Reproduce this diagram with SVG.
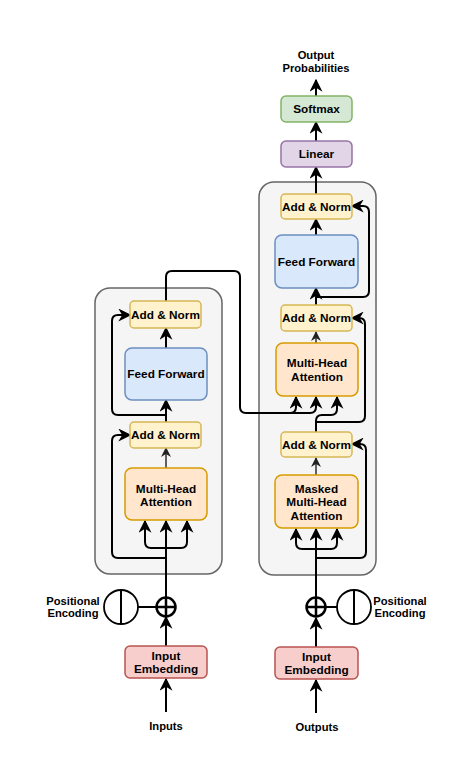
<svg xmlns="http://www.w3.org/2000/svg" width="474" height="783" viewBox="0 0 474 783">
<defs>
<marker id="ah" markerUnits="userSpaceOnUse" markerWidth="13" markerHeight="13" viewBox="0 0 10 10" refX="9" refY="5" orient="auto">
<path d="M0,0 L10,5 L0,10 L3,5 Z" fill="#000"/>
</marker>
<marker id="ahs" markerUnits="userSpaceOnUse" markerWidth="10" markerHeight="10" viewBox="0 0 10 10" refX="9" refY="5" orient="auto">
<path d="M0,0 L10,5 L0,10 L3,5 Z" fill="#222"/>
</marker>
<style>
text{font-family:"Liberation Sans",Arial,sans-serif;font-weight:bold;font-size:11.8px;fill:#000;text-anchor:middle;dominant-baseline:central}
.lbl{font-size:11.2px}
.cont{fill:#f5f5f5;stroke:#666;stroke-width:1.5}
.an{fill:#fff2cc;stroke:#d6b656;stroke-width:1.5}
.mha{fill:#ffe6cc;stroke:#d79b00;stroke-width:1.5}
.ff{fill:#dae8fc;stroke:#6c8ebf;stroke-width:1.5}
.sm{fill:#d5e8d4;stroke:#82b366;stroke-width:1.5}
.lin{fill:#e1d5e7;stroke:#9673a6;stroke-width:1.5}
.emb{fill:#f8cecc;stroke:#b85450;stroke-width:1.5}
.c{fill:none;stroke:#000;stroke-width:2}
.a{fill:none;stroke:#000;stroke-width:2;marker-end:url(#ah)}
.t{fill:none;stroke:#222;stroke-width:1.4;marker-end:url(#ahs)}
.circ{fill:#fff;stroke:#000;stroke-width:1.8}
.plus{fill:none;stroke:#000;stroke-width:2.5}
</style>
</defs>
<rect width="474" height="783" fill="#fff"/>

<g id="encoder-block"><rect class="cont" x="95" y="288" width="127" height="286" rx="15"/></g>
<g id="decoder-block"><rect class="cont" x="259" y="182" width="117" height="393" rx="15"/></g>

<g id="connectors">
<path class="a" d="M166,712 V679"/>
<path class="a" d="M166,646 V617"/>
<path class="c" d="M138,607 H156"/>
<path class="a" d="M166,597 V521"/>
<path class="a" d="M166,548 H151 Q145,548 145,542 V521"/>
<path class="a" d="M166,548 H181 Q187,548 187,542 V521"/>
<path class="a" d="M166,558 H118 Q112,558 112,552 V441 Q112,435 118,435 H130"/>
<path class="t" d="M166,468 V448"/>
<path class="a" d="M166,422 V400"/>
<path class="a" d="M166,415 H118 Q112,415 112,409 V321 Q112,315 118,315 H130"/>
<path class="a" d="M166,348 V328"/>
<path class="c" d="M166,301 V277 Q166,271 172,271 H234 Q240,271 240,277 V407 Q240,413 246,413 H290"/>
<path class="a" d="M246,413 H290 Q296,413 296,407 V397"/>
<path class="a" d="M290,413 H310 Q316,413 316,407 V397"/>
<path class="a" d="M316,713 V680"/>
<path class="a" d="M316,647 V618"/>
<path class="c" d="M326,607 H337"/>
<path class="a" d="M316,597 V529"/>
<path class="a" d="M316,549 H302 Q296,549 296,543 V529"/>
<path class="a" d="M316,549 H331 Q337,549 337,543 V529"/>
<path class="a" d="M316,558 H360 Q366,558 366,552 V450 Q366,444 360,444 H352"/>
<path class="t" d="M316,475 V458"/>
<path class="a" d="M316,432 V421 Q316,415 322,415 H331 Q337,415 337,409 V397"/>
<path class="a" d="M316,422 H359 Q365,422 365,416 V324 Q365,318 359,318 H352"/>
<path class="t" d="M316,343 V332"/>
<path class="a" d="M316,305 V288"/>
<path class="a" d="M316,297 H363 Q369,297 369,291 V212 Q369,206 363,206 H352"/>
<path class="a" d="M316,235 V219"/>
<path class="a" d="M316,194 V167"/>
<path class="a" d="M316,141 V122"/>
<path class="a" d="M316,96 V80"/>
</g>

<g id="output-label"><text class="lbl" x="316" y="55">Output</text><text class="lbl" x="316" y="68">Probabilities</text></g>
<g id="softmax"><rect class="sm" x="281" y="96" width="71" height="26" rx="5"/><text x="316.5" y="109">Softmax</text></g>
<g id="linear"><rect class="lin" x="281" y="141" width="71" height="26" rx="5"/><text x="316.5" y="154">Linear</text></g>

<g id="dec-addnorm3"><rect class="an" x="281" y="194" width="71" height="25" rx="4"/><text x="316.5" y="206.5">Add &amp; Norm</text></g>
<g id="dec-ff"><rect class="ff" x="275" y="235" width="83" height="53" rx="7"/><text x="316.5" y="261.5">Feed Forward</text></g>
<g id="dec-addnorm2"><rect class="an" x="281" y="305" width="71" height="26" rx="4"/><text x="316.5" y="318">Add &amp; Norm</text></g>
<g id="dec-mha"><rect class="mha" x="276" y="343" width="82" height="53" rx="7"/><text x="317" y="362.5">Multi-Head</text><text x="317" y="377">Attention</text></g>
<g id="dec-addnorm1"><rect class="an" x="281" y="432" width="71" height="25" rx="4"/><text x="316.5" y="444.5">Add &amp; Norm</text></g>
<g id="dec-masked-mha"><rect class="mha" x="275" y="475" width="83" height="53" rx="7"/><text x="316.5" y="489">Masked</text><text x="316.5" y="502">Multi-Head</text><text x="316.5" y="515.5">Attention</text></g>

<g id="enc-addnorm2"><rect class="an" x="130" y="301" width="71" height="27" rx="4"/><text x="165.5" y="314.5">Add &amp; Norm</text></g>
<g id="enc-ff"><rect class="ff" x="125" y="348" width="82" height="52" rx="7"/><text x="166" y="374">Feed Forward</text></g>
<g id="enc-addnorm1"><rect class="an" x="130" y="422" width="71" height="26" rx="4"/><text x="165.5" y="435">Add &amp; Norm</text></g>
<g id="enc-mha"><rect class="mha" x="125" y="468" width="82" height="52" rx="7"/><text x="166" y="488.5">Multi-Head</text><text x="166" y="502">Attention</text></g>

<g id="enc-pe"><circle class="circ" cx="121" cy="607" r="17"/><path class="c" d="M121,590 V624" stroke-width="1.8"/><text class="lbl" x="73" y="600.5">Positional</text><text class="lbl" x="73" y="612.5">Encoding</text></g>
<g id="enc-add"><circle class="plus" cx="166" cy="607" r="9.5"/><path class="plus" d="M156.5,607 H175.5 M166,597.5 V616.5"/></g>
<g id="enc-emb"><rect class="emb" x="125" y="646" width="82" height="32" rx="5"/><text x="166" y="656">Input</text><text x="166" y="669">Embedding</text></g>
<g id="inputs-label"><text class="lbl" x="166" y="726">Inputs</text></g>

<g id="dec-pe"><circle class="circ" cx="354" cy="607" r="17"/><path class="c" d="M354,590 V624" stroke-width="1.8"/><text class="lbl" x="400" y="600.5">Positional</text><text class="lbl" x="400" y="612.5">Encoding</text></g>
<g id="dec-add"><circle class="plus" cx="316" cy="607" r="9.5"/><path class="plus" d="M306.5,607 H325.5 M316,597.5 V616.5"/></g>
<g id="dec-emb"><rect class="emb" x="275" y="647" width="83" height="32" rx="5"/><text x="316.5" y="657">Input</text><text x="316.5" y="670">Embedding</text></g>
<g id="outputs-label"><text class="lbl" x="317" y="727">Outputs</text></g>
</svg>
